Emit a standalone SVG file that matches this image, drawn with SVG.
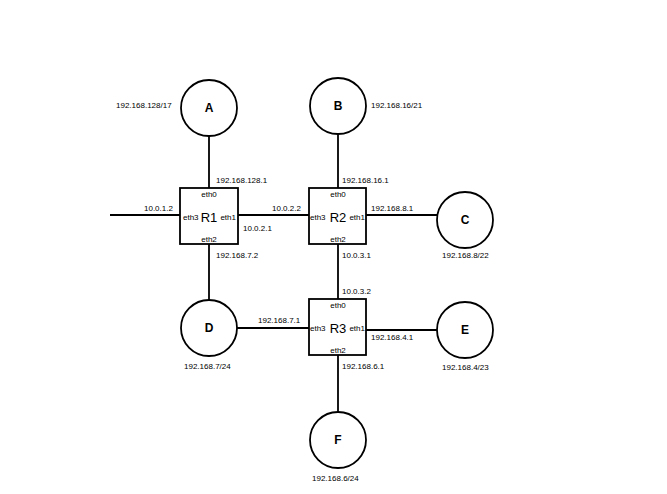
<svg xmlns="http://www.w3.org/2000/svg" width="667" height="494" viewBox="0 0 667 494">
<style>
.n{fill:#fff;stroke:#000;stroke-width:1.8}
.l{stroke:#000;stroke-width:1.8}
text{font-family:"Liberation Sans",Arial,sans-serif;fill:#000}
.s{font-size:8px}
.e{font-size:8px}
.r{font-size:13px}
.c{font-size:12px;font-weight:bold}
</style>
<rect width="667" height="494" fill="#fff"/>
<g id="connectors">
<line class="l" x1="209" y1="136" x2="209" y2="188"/>
<line class="l" x1="110" y1="215" x2="180" y2="215"/>
<line class="l" x1="238" y1="215" x2="309" y2="215"/>
<line class="l" x1="338" y1="134" x2="338" y2="188"/>
<line class="l" x1="366" y1="215" x2="437" y2="215"/>
<line class="l" x1="338" y1="244" x2="338" y2="299"/>
<line class="l" x1="209" y1="244" x2="209" y2="300"/>
<line class="l" x1="237" y1="328" x2="309" y2="328"/>
<line class="l" x1="366" y1="330" x2="437" y2="330"/>
<line class="l" x1="338" y1="355" x2="338" y2="412"/>
</g>
<g id="A"><circle class="n" cx="209" cy="108" r="28"/><text class="c" x="209" y="112" text-anchor="middle">A</text><text class="s" x="116" y="108">192.168.128/17</text></g>
<g id="B"><circle class="n" cx="338" cy="106" r="28"/><text class="c" x="338" y="110" text-anchor="middle">B</text><text class="s" x="371" y="108">192.168.16/21</text></g>
<g id="C"><circle class="n" cx="465" cy="220" r="28"/><text class="c" x="465" y="224" text-anchor="middle">C</text><text class="s" x="442" y="258">192.168.8/22</text></g>
<g id="D"><circle class="n" cx="209" cy="328" r="28"/><text class="c" x="209" y="332" text-anchor="middle">D</text><text class="s" x="184" y="369">192.168.7/24</text></g>
<g id="E"><circle class="n" cx="465" cy="330" r="28"/><text class="c" x="465" y="334" text-anchor="middle">E</text><text class="s" x="442" y="370">192.168.4/23</text></g>
<g id="F"><circle class="n" cx="338" cy="440" r="28"/><text class="c" x="338" y="444" text-anchor="middle">F</text><text class="s" x="312" y="481">192.168.6/24</text></g>
<g id="R1"><rect class="n" x="180" y="188" width="58" height="56"/>
<text class="e" x="209" y="197" text-anchor="middle">eth0</text><text class="e" x="209" y="242" text-anchor="middle">eth2</text>
<text class="e" x="183" y="220">eth3</text><text class="e" x="236" y="220" text-anchor="end">eth1</text>
<text class="r" x="209" y="222" text-anchor="middle">R1</text>
<text class="s" x="216" y="183">192.168.128.1</text><text class="s" x="144" y="211">10.0.1.2</text>
<text class="s" x="243" y="231">10.0.2.1</text><text class="s" x="216" y="258">192.168.7.2</text></g>
<g id="R2"><rect class="n" x="309" y="188" width="57" height="56"/>
<text class="e" x="338" y="197" text-anchor="middle">eth0</text><text class="e" x="338" y="242" text-anchor="middle">eth2</text>
<text class="e" x="310" y="220">eth3</text><text class="e" x="365" y="220" text-anchor="end">eth1</text>
<text class="r" x="338" y="222" text-anchor="middle">R2</text>
<text class="s" x="342" y="183">192.168.16.1</text><text class="s" x="272" y="211">10.0.2.2</text>
<text class="s" x="371" y="211">192.168.8.1</text><text class="s" x="342" y="258">10.0.3.1</text></g>
<g id="R3"><rect class="n" x="309" y="299" width="57" height="56"/>
<text class="e" x="338" y="308" text-anchor="middle">eth0</text><text class="e" x="338" y="353" text-anchor="middle">eth2</text>
<text class="e" x="310" y="331">eth3</text><text class="e" x="365" y="331" text-anchor="end">eth1</text>
<text class="r" x="338" y="333" text-anchor="middle">R3</text>
<text class="s" x="342" y="294">10.0.3.2</text><text class="s" x="258" y="323">192.168.7.1</text>
<text class="s" x="371" y="340">192.168.4.1</text><text class="s" x="342" y="369">192.168.6.1</text></g>
</svg>
